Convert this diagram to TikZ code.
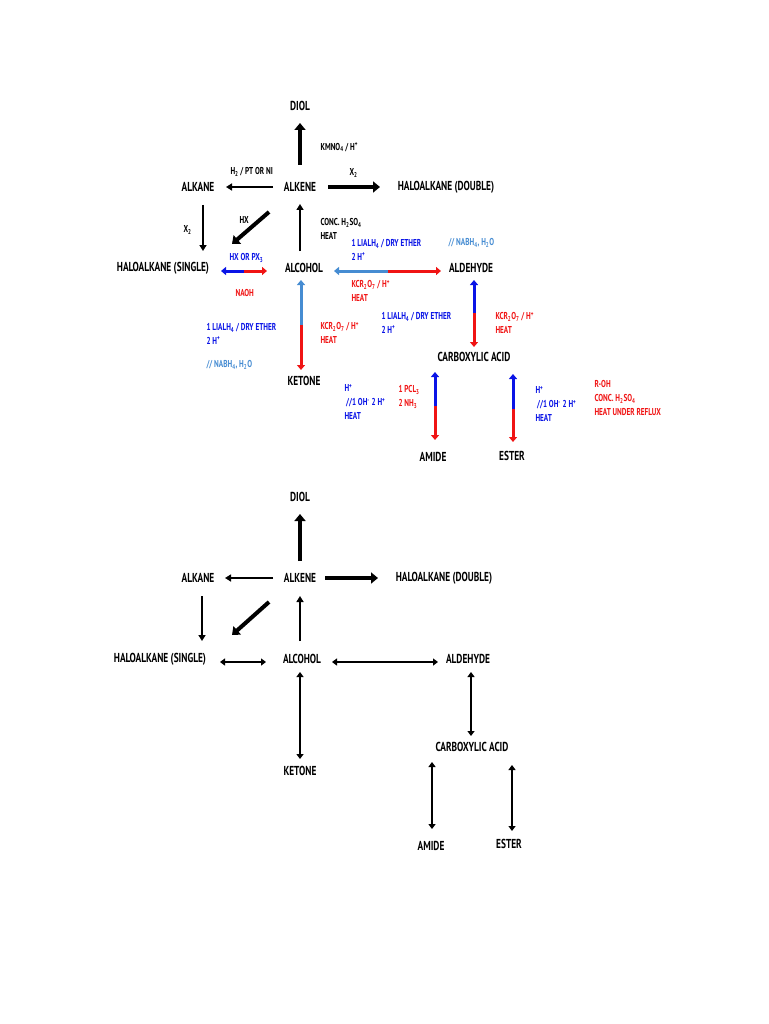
\documentclass[tikz,border=0pt]{standalone}
\usepackage{fontspec}
\setmainfont{PT Sans}[FakeStretch=0.72]
\usetikzlibrary{arrows.meta}
\definecolor{cb}{RGB}{10,20,230}
\definecolor{cl}{RGB}{70,140,210}
\definecolor{cr}{RGB}{240,20,20}
\newcommand{\sbs}[1]{\textsubscript{#1}}
\newcommand{\sps}[1]{\textsuperscript{#1}}
\tikzset{
 chem/.style={font=\bfseries\fontsize{13}{13}\selectfont},
 lab/.style={font=\bfseries\fontsize{10}{14}\selectfont,align=left,anchor=west},
 thk/.style={line width=4pt,-{Triangle[length=7pt,width=11pt]}},
 thn/.style={line width=2.2pt,-{Triangle[length=6pt,width=7pt]}},
 both/.style={line width=2.5pt,{Triangle[length=5pt,width=7pt]}-{Triangle[length=5pt,width=7pt]}},
 hd/.style={line width=3pt,-{Triangle[length=5pt,width=8pt]}},
}
\begin{document}
\begin{tikzpicture}[x=1pt,y=-1pt]
\useasboundingbox (0,0) rectangle (768,1024);
% ---------- top ----------
\node[chem] (diol) at (300,106) {DIOL};
\node[chem] (alkane) at (198,187) {ALKANE};
\node[chem] (alkene) at (300,187) {ALKENE};
\node[chem] (hd) at (446,187) {HALOALKANE (DOUBLE)};
\node[chem] (hs) at (163,268) {HALOALKANE (SINGLE)};
\node[chem] (alc) at (304,268) {ALCOHOL};
\node[chem] (ald) at (471,268) {ALDEHYDE};
\node[chem] (ket) at (304,381) {KETONE};
\node[chem] (carb) at (474,357) {CARBOXYLIC ACID};
\node[chem] (amide) at (433,457) {AMIDE};
\node[chem] (ester) at (512,456) {ESTER};
\coordinate (a1) at (300,165); \coordinate (a2) at (300,123);
\draw[thk] (a1) -- (a2);
\coordinate (b1) at (273,187); \coordinate (b2) at (226,187);
\draw[thn] (b1) -- (b2);
\coordinate (c1) at (328,187); \coordinate (c2) at (380,187);
\draw[thk] (c1) -- (c2);
\coordinate (d1) at (203,205); \coordinate (d2) at (203,251);
\draw[thn] (d1) -- (d2);
\coordinate (e1) at (269,212); \coordinate (e2) at (232,244);
\draw[thk] (e1) -- (e2);
\coordinate (f1) at (300,251); \coordinate (f2) at (300,204);
\draw[thn] (f1) -- (f2);
\node[lab] (l1) at (317,147) {KMNO\sbs{4} / H\sps{+}};
\node[lab] (l2) at (227,172) {H\sbs{2} / PT OR NI};
\node[lab] (l3) at (346,173) {X\sbs{2}};
\node[lab] (l4) at (180,230) {X\sbs{2}};
\node[lab] (l5) at (236,220) {HX};
\node[lab] (l6) at (317,229) {CONC. H\sbs{2}SO\sbs{4}\\HEAT};
% haloalkane single <-> alcohol
\coordinate (g1) at (221,271); \coordinate (gm) at (244,271); \coordinate (g2) at (267,271);
\draw[hd,cb] (gm) -- (g1); \draw[hd,cr] (gm) -- (g2);
\node[lab,text=cb] (l7) at (226,258) {HX OR PX\sbs{3}};
\node[lab,text=cr] (l8) at (232,293) {NAOH};
% alcohol <-> aldehyde
\coordinate (h1) at (334,271); \coordinate (hm) at (388,271); \coordinate (h2) at (441,271);
\draw[hd,cl] (hm) -- (h1); \draw[hd,cr] (hm) -- (h2);
\node[lab,text=cb] (l9) at (348,250) {1 LIALH\sbs{4} / DRY ETHER\\2 H\sps{+}};
\node[lab,text=cl] (l10) at (445,243) {// NABH\sbs{4}, H\sbs{2}O};
\node[lab,text=cr] (l11) at (348,291) {KCR\sbs{2}O\sbs{7} / H\sps{+}\\HEAT};
% alcohol <-> ketone
\coordinate (k1) at (301,280); \coordinate (km) at (301,325); \coordinate (k2) at (301,370);
\draw[hd,cl] (km) -- (k1); \draw[hd,cr] (km) -- (k2);
\node[lab,text=cb] (l12) at (203,334) {1 LIALH\sbs{4} / DRY ETHER\\2 H\sps{+}};
\node[lab,text=cl] (l13) at (203,365) {// NABH\sbs{4}, H\sbs{2}O};
\node[lab,text=cr] (l14) at (317,333) {KCR\sbs{2}O\sbs{7} / H\sps{+}\\HEAT};
% aldehyde <-> carboxylic
\coordinate (m1) at (474,280); \coordinate (mm) at (474,313); \coordinate (m2) at (474,347);
\draw[hd,cb] (mm) -- (m1); \draw[hd,cr] (mm) -- (m2);
\node[lab,text=cb] (l15) at (378,323) {1 LIALH\sbs{4} / DRY ETHER\\2 H\sps{+}};
\node[lab,text=cr] (l16) at (492,323) {KCR\sbs{2}O\sbs{7} / H\sps{+}\\HEAT};
% carboxylic <-> amide
\coordinate (n1) at (435,372); \coordinate (nm) at (435,406); \coordinate (n2) at (435,440);
\draw[hd,cb] (nm) -- (n1); \draw[hd,cr] (nm) -- (n2);
\node[lab,text=cb] (l17) at (341,402) {H\sps{+}\\\,//1 OH\sps{-} 2 H\sps{+}\\HEAT};
\node[lab,text=cr] (l18) at (395,397) {1 PCL\sbs{3}\\2 NH\sbs{3}};
% carboxylic <-> ester
\coordinate (p1) at (513,374); \coordinate (pm) at (513,409); \coordinate (p2) at (513,442);
\draw[hd,cb] (pm) -- (p1); \draw[hd,cr] (pm) -- (p2);
\node[lab,text=cb] (l19) at (532,404) {H\sps{+}\\\,//1 OH\sps{-} 2 H\sps{+}\\HEAT};
\node[lab,text=cr] (l20) at (591,398) {R-OH\\CONC. H\sbs{2}SO\sbs{4}\\HEAT UNDER REFLUX};
% ---------- bottom ----------
\node[chem] (Bdiol) at (300,497) {DIOL};
\node[chem] (Balkane) at (198,578) {ALKANE};
\node[chem] (Balkene) at (300,578) {ALKENE};
\node[chem] (Bhd) at (444,578) {HALOALKANE (DOUBLE)};
\node[chem] (Bhs) at (160,659) {HALOALKANE (SINGLE)};
\node[chem] (Balc) at (302,659) {ALCOHOL};
\node[chem] (Bald) at (468,659) {ALDEHYDE};
\node[chem] (Bket) at (300,771) {KETONE};
\node[chem] (Bcarb) at (472,747) {CARBOXYLIC ACID};
\node[chem] (Bamide) at (431,846) {AMIDE};
\node[chem] (Bester) at (509,844) {ESTER};
\coordinate (A1) at (300,561); \coordinate (A2) at (300,514);
\draw[thk] (A1) -- (A2);
\coordinate (B1) at (273,578); \coordinate (B2) at (225,578);
\draw[thn] (B1) -- (B2);
\coordinate (C1) at (325,578); \coordinate (C2) at (378,578);
\draw[thk] (C1) -- (C2);
\coordinate (D1) at (202,596); \coordinate (D2) at (202,641);
\draw[thn] (D1) -- (D2);
\coordinate (E1) at (269,602); \coordinate (E2) at (232,635);
\draw[thk] (E1) -- (E2);
\coordinate (F1) at (300,641); \coordinate (F2) at (300,596);
\draw[thn] (F1) -- (F2);
\coordinate (G1) at (220,662); \coordinate (G2) at (266,662);
\draw[both] (G1) -- (G2);
\coordinate (H1) at (332,662); \coordinate (H2) at (438,662);
\draw[both] (H1) -- (H2);
\coordinate (K1) at (300,672); \coordinate (K2) at (300,759);
\draw[both] (K1) -- (K2);
\coordinate (M1) at (471,672); \coordinate (M2) at (471,736);
\draw[both] (M1) -- (M2);
\coordinate (N1) at (432,762); \coordinate (N2) at (432,829);
\draw[both] (N1) -- (N2);
\coordinate (P1) at (512,765); \coordinate (P2) at (512,831);
\draw[both] (P1) -- (P2);
\end{tikzpicture}
\end{document}
